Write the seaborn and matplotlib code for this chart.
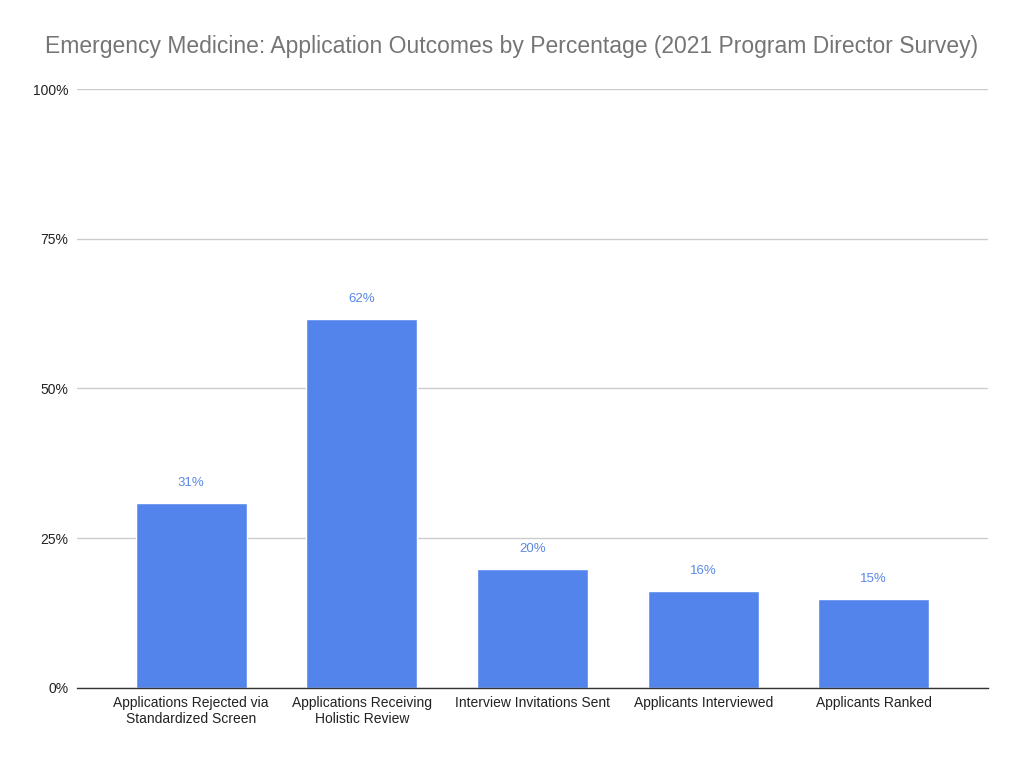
import matplotlib
matplotlib.use("Agg")
import matplotlib.pyplot as plt
import seaborn as sns
import pandas as pd

categories = ["Applications Rejected via\nStandardized Screen",
              "Applications Receiving\nHolistic Review",
              "Interview Invitations Sent",
              "Applicants Interviewed",
              "Applicants Ranked"]
percent = [30.9, 61.6, 19.9, 16.2, 14.9]
yticks = [0, 25, 50, 75, 100]

sns.set_style("white")
plt.rcParams["font.family"] = ["Liberation Sans", "DejaVu Sans"]

data = pd.DataFrame({"category": categories, "percent": percent})

fig = plt.figure(figsize=(10.24, 7.61), dpi=100)
ax = fig.add_axes([0.075, 0.096, 0.89, 0.787])
sns.barplot(data=data, x="category", y="percent", color="#5384ec",
            width=0.65, saturation=1, ax=ax, zorder=3)

for i, v in enumerate(percent):
    ax.annotate(f"{v:.0f}%", (i, v), xytext=(0, 10), textcoords="offset points",
                ha="center", va="bottom", color="#5b87e6", fontsize=9.5)

ax.set_ylim(0, 100)
ax.set_xlim(-0.67, 4.67)
ax.set_yticks(yticks)
ax.set_yticklabels([f"{t}%" for t in yticks], fontsize=10, color="#222222")
ax.tick_params(axis="x", labelsize=10, colors="#222222", length=0, pad=6)
ax.tick_params(axis="y", length=0, pad=6)
ax.grid(axis="y", color="#cccccc", linewidth=1, zorder=0)
for s in ["top", "right", "left"]:
    ax.spines[s].set_visible(False)
ax.spines["bottom"].set_color("#333333")
ax.spines["bottom"].set_linewidth(1)
ax.spines["bottom"].set_zorder(4)
ax.set_xlabel("")
ax.set_ylabel("")

fig.suptitle("Emergency Medicine: Application Outcomes by Percentage (2021 Program Director Survey)",
             x=0.5, y=0.954, fontsize=16.5, color="#757575")

fig.savefig("out.png", dpi=100)
